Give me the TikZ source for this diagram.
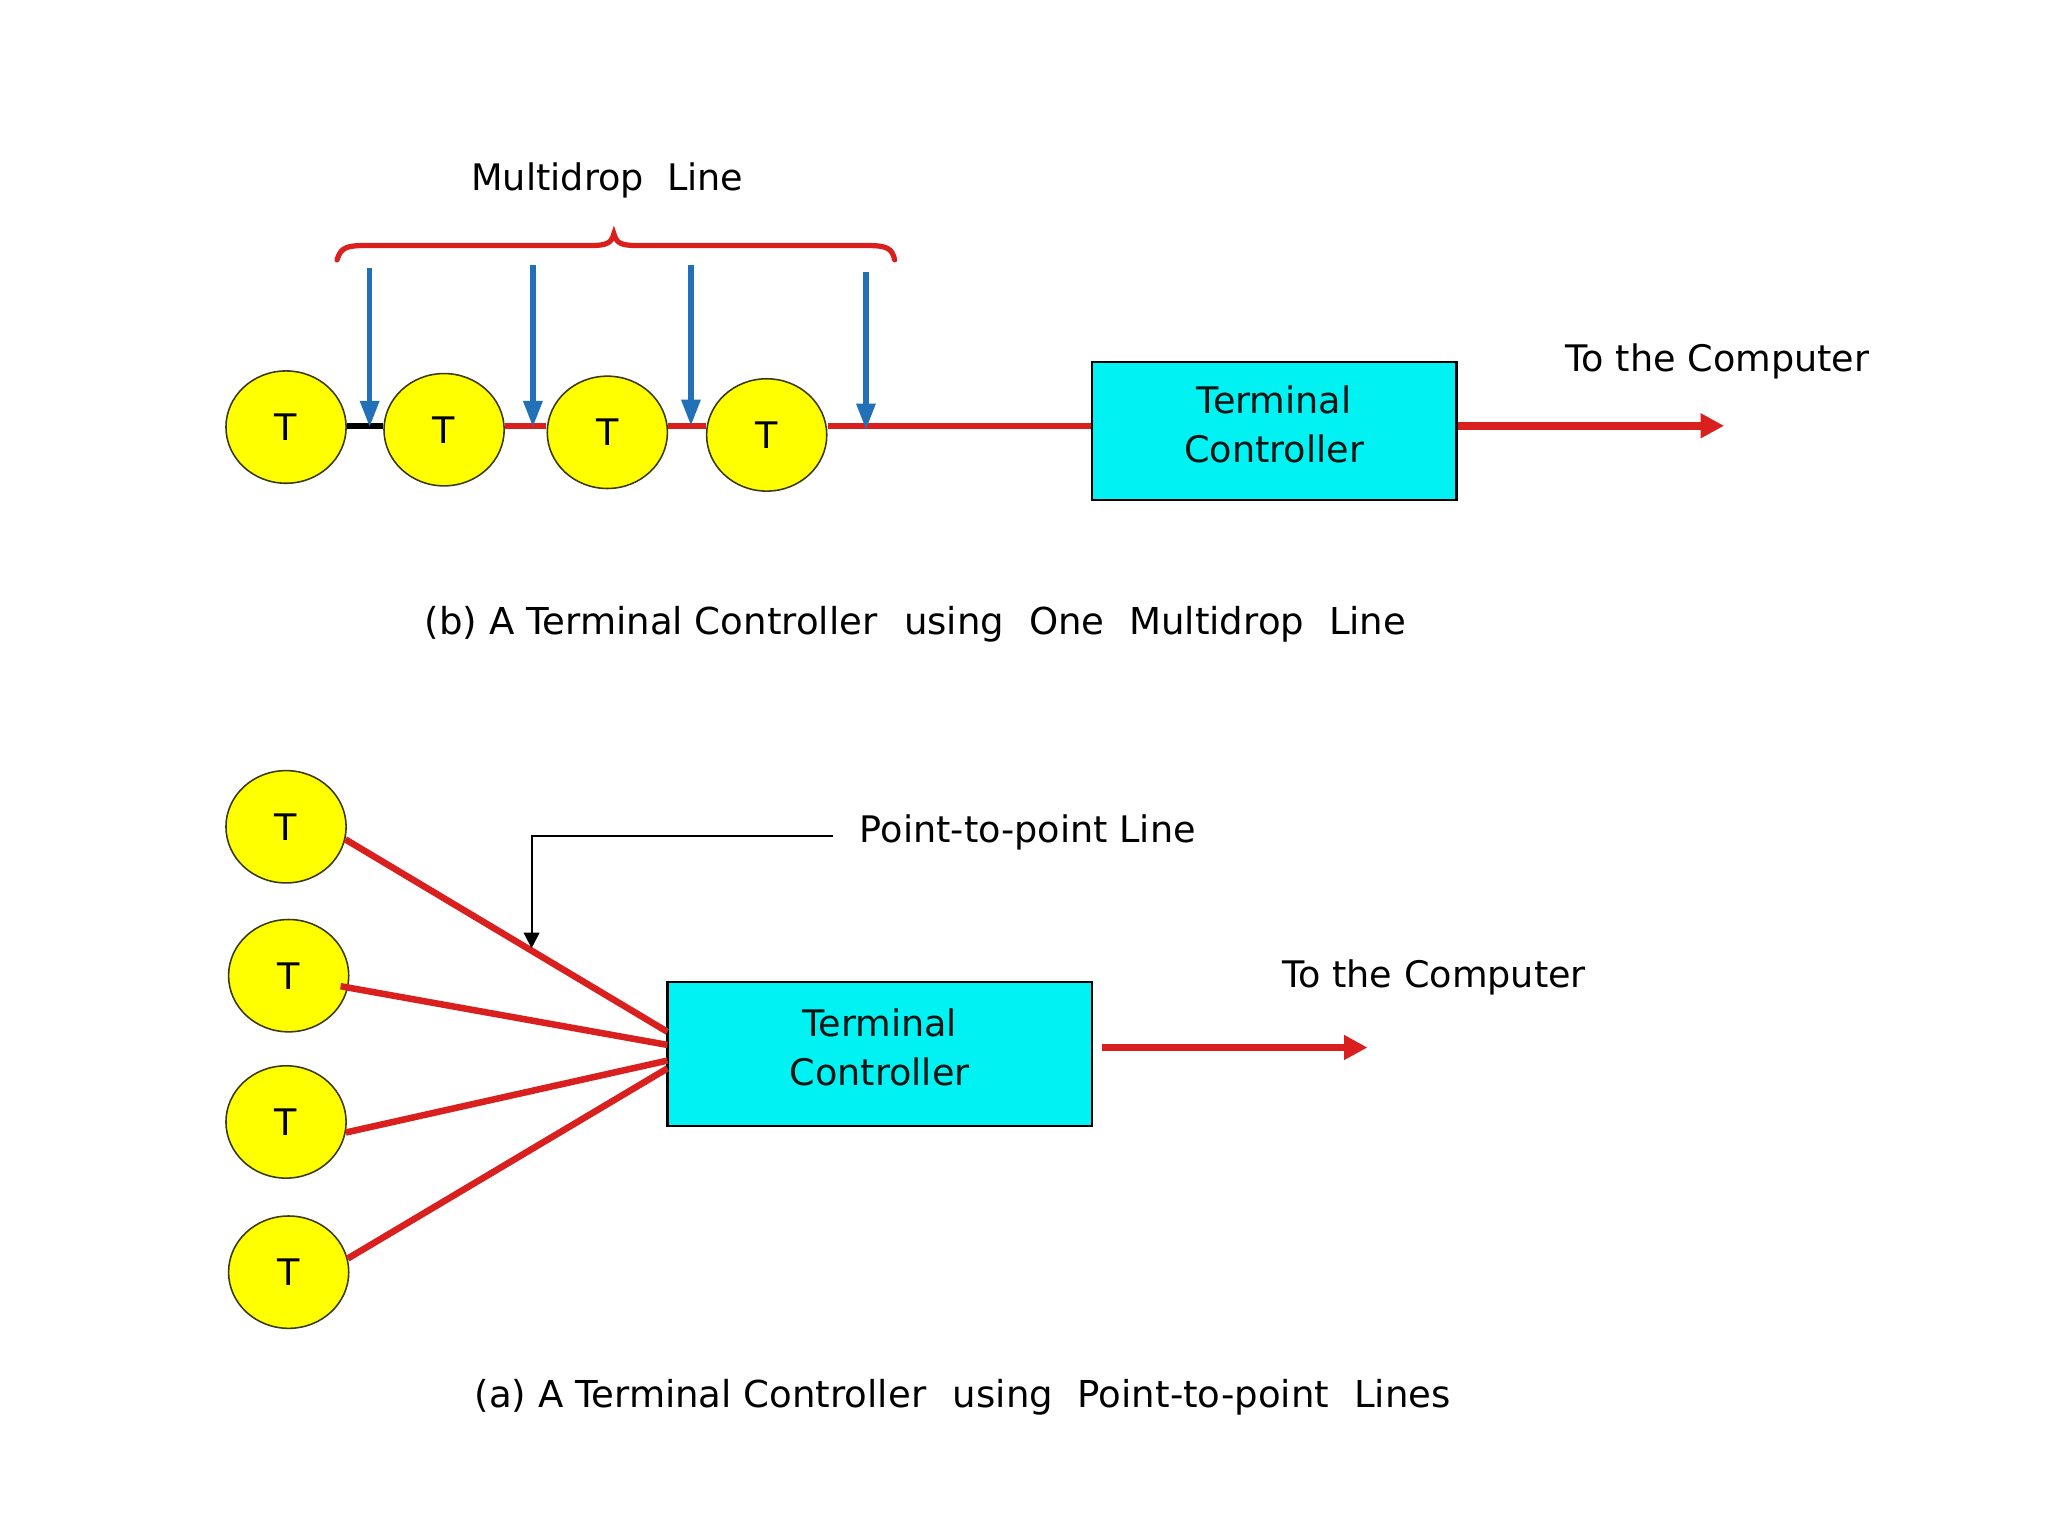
\documentclass[tikz,border=0pt]{standalone}
\usepackage{fontspec}
\setmainfont{DejaVu Sans}
\usetikzlibrary{arrows.meta,shapes.geometric,calc}
\definecolor{tred}{HTML}{D9201E}
\definecolor{tblue}{HTML}{2170B8}
\definecolor{tyel}{HTML}{FFFF00}
\definecolor{tcyan}{HTML}{00F2F2}
\definecolor{tedge}{HTML}{3A3A10}
\begin{document}
\begin{tikzpicture}[x=0.5pt,y=-0.5pt,
 term/.style={ellipse, draw=tedge, fill=tyel, line width=0.6pt, minimum width=46pt, minimum height=43pt, inner sep=0pt, font=\fontsize{14}{16}\selectfont},
 ctrl/.style={rectangle, draw=black, fill=tcyan, line width=0.9pt, inner sep=0pt},
 ctrltext/.style={align=center, inner sep=0pt, font=\fontsize{14}{18.5}\selectfont, text=black!85!teal},
 redline/.style={draw=tred, line width=2.5pt},
 redarrow/.style={draw=tred, line width=3pt, -{Triangle[length=9pt,width=9pt]}},
 bluearrow/.style={draw=tblue, line width=2pt, -{Triangle[length=10pt,width=7pt]}},
 lbl/.style={font=\fontsize{14}{16}\selectfont, inner sep=0pt},
 caption/.style={font=\fontsize{14.2}{16}\selectfont, inner sep=0pt},
 callout/.style={draw=black, line width=0.8pt, -{Triangle[length=6pt,width=6pt]}}
]
\useasboundingbox[fill=white] (0,0) rectangle (1568,1176);

% ---------------- top: multidrop ----------------
\node[lbl] (mdl) at (465,138) {Multidrop~ Line};
\draw[tred, line width=2pt, line cap=round] (258,199) .. controls (261,189) and (266,188) .. (280,188) -- (452,188) .. controls (465,188) and (468,186) .. (470,179) .. controls (472,186) and (475,188) .. (488,188) -- (664,188) .. controls (679,188) and (683,190) .. (685,199);

\node[term] (b1) at (219,327) {T};
\node[term] (b2) at (340,329) {T};
\node[term] (b3) at (465,331) {T};
\node[term] (b4) at (587,333) {T};
\node[ctrl, minimum width=139.5pt, minimum height=53pt] (bc) at (975.5,330) {};
\node[ctrltext] (bct) at (975.5,325) {Terminal\\Controller};

\draw[black, line width=2.5pt] (b1.east |- 0,326) -- (b2.west |- 0,326);
\draw[redline] (b2.east |- 0,326) -- (b3.west |- 0,326);
\draw[redline] (b3.east |- 0,326) -- (b4.west |- 0,326);
\draw[redline] (b4.east |- 0,326) -- (bc.west |- 0,326);

\coordinate (bout) at (1320,326);
\draw[redarrow] (bc.east |- 0,326) -- (bout);
\node[lbl] (bcomp) at (1315,277) {To the Computer};

\coordinate (d1s) at (283,205); \coordinate (d1e) at (283,327);
\coordinate (d2s) at (408,203); \coordinate (d2e) at (408,327);
\coordinate (d3s) at (529,203); \coordinate (d3e) at (529,326);
\coordinate (d4s) at (663,208); \coordinate (d4e) at (663,329);
\draw[bluearrow] (d1s) -- (d1e);
\draw[bluearrow] (d2s) -- (d2e);
\draw[bluearrow] (d3s) -- (d3e);
\draw[bluearrow] (d4s) -- (d4e);

\node[caption] (capb) at (701,478) {(b) A Terminal Controller\hspace{0.4em} using\hspace{0.35em} One\hspace{0.35em} Multidrop\hspace{0.35em} Line};

% ---------------- bottom: point to point ----------------
\node[term] (a1) at (219,633) {T};
\node[term] (a2) at (221,747) {T};
\node[term] (a3) at (219,859) {T};
\node[term] (a4) at (221,974) {T};
\node[ctrl, minimum width=162.5pt, minimum height=55pt] (ac) at (673.5,807) {};
\node[ctrltext] (act) at (673.5,802) {Terminal\\Controller};

\coordinate (p1) at (511,790);
\coordinate (p2) at (511,800);
\coordinate (p3) at (511,812);
\coordinate (p4) at (511,818);
\draw[redline] (a1.-12) -- (p1);
\draw[redline] ([xshift=-3pt]a2.-10) -- (p2);
\draw[redline] (a3.-10) -- (p3);
\draw[redline] (a4.13) -- (p4);

\node[lbl, anchor=west] (ptp) at (658,637) {Point-to-point Line};
\coordinate (hit) at (407,726);
\coordinate (cstart) at (638,640);
\draw[callout] (cstart) -| (hit);

\coordinate (aout) at (1047,802);
\draw[redarrow] (ac.east |- 0,802) ++(7,0) -- (aout);
\node[lbl] (acomp) at (1098,748) {To the Computer};

\node[caption] (capa) at (737,1070) {(a) A Terminal Controller\hspace{0.4em} using\hspace{0.35em} Point-to-point\hspace{0.35em} Lines};
\end{tikzpicture}
\end{document}
